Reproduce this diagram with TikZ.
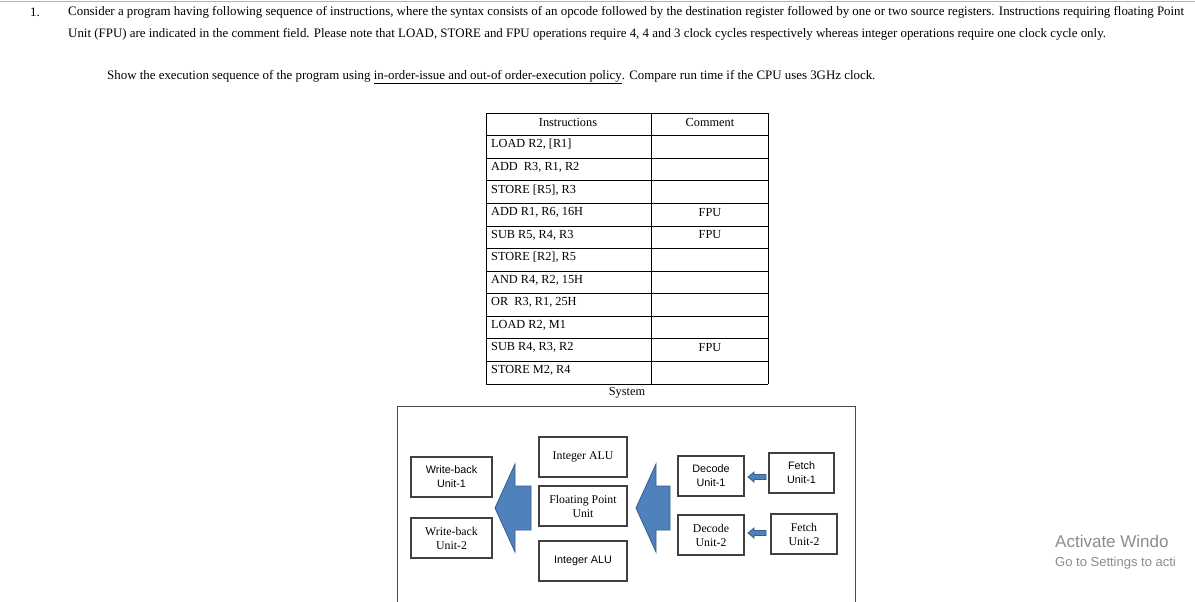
\documentclass[tikz,border=0pt]{standalone}
\usepackage{fontspec}
\setmainfont{Liberation Serif}
\setsansfont{Liberation Sans}
\begin{document}
\begin{tikzpicture}[x=1pt,y=-1pt,
  txt/.style={font=\fontsize{12.9}{14}\selectfont,anchor=west,inner sep=0},
  cell/.style={font=\fontsize{12.3}{14}\selectfont,anchor=west,inner sep=0},
  unit/.style={draw=black!75,line width=1.3pt,align=center,inner sep=0,font=\fontsize{11.8}{14}\selectfont},
  sunit/.style={unit,font=\sffamily\fontsize{10.8}{14}\selectfont},
  garrow/.style={fill={rgb,255:red,79;green,129;blue,189},draw={rgb,255:red,56;green,93;blue,138},line width=0.8pt}]
\useasboundingbox (0,0) rectangle (1195,602);
\fill[white] (0,0) rectangle (1195,602);
\draw[black!30] (0,1) -- (1195,1);
\node[txt] (n1) at (30,12) {1.};
\node[txt] (l1) at (68,12) {Consider a program having following sequence of instructions, where the syntax consists of an opcode followed by the destination register followed by one or two source registers. Instructions requiring floating Point};
\node[txt] (l2) at (68,34) {Unit (FPU) are indicated in the comment field. Please note that LOAD, STORE and FPU operations require 4, 4 and 3 clock cycles respectively whereas integer operations require one clock cycle only.};
\node[txt] (l3) at (107,77) {Show the execution sequence of the program using \underline{in-order-issue and out-of order-execution policy}. Compare run time if the CPU uses 3GHz clock.};
% table
\foreach \i in {0,...,12} \draw[line width=0.8pt] (486,{113+\i*22.58}) -- (768,{113+\i*22.58});
\draw[line width=0.8pt] (486,113) -- (486,384) (651,113) -- (651,384) (768,113) -- (768,384);
\node[cell,anchor=center] (h1) at (568,122) {Instructions};
\node[cell,anchor=center] (h2) at (710,122) {Comment};
\foreach \t [count=\i] in {{LOAD R2, [R1]},{ADD\ \ R3, R1, R2},{STORE [R5], R3},{ADD R1, R6, 16H},{SUB R5, R4, R3},{STORE [R2], R5},{AND R4, R2, 15H},{OR\ \ R3, R1, 25H},{LOAD R2, M1},{SUB R4, R3, R2},{STORE M2, R4}}
  \node[cell] at (491,{122+\i*22.58}) {\t};
\node[cell,anchor=center] (c4) at (710,{122+4*22.58}) {FPU};
\node[cell,anchor=center] (c5) at (710,{122+5*22.58}) {FPU};
\node[cell,anchor=center] (c10) at (710,{122+10*22.58}) {FPU};
\node[cell,anchor=center] (sys) at (627,393) {System};
% system box
\draw[black!70,line width=1pt] (397,602) -- (397,406) -- (855,406) -- (855,602);
\node[sunit,minimum width=81,minimum height=40] (wb1) at (451.5,477) {Write-back\\Unit-1};
\node[unit,minimum width=81,minimum height=40] (wb2) at (451.5,538) {Write-back\\Unit-2};
\node[unit,minimum width=88,minimum height=40] (ia1) at (583,457) {Integer ALU};
\node[unit,minimum width=88,minimum height=40] (fpu) at (583,506) {Floating Point\\Unit};
\node[sunit,minimum width=88,minimum height=40] (ia2) at (583,561) {Integer ALU};
\node[sunit,minimum width=66,minimum height=40] (d1) at (711,476) {Decode\\Unit-1};
\node[unit,minimum width=66,minimum height=40] (d2) at (711,535) {Decode\\Unit-2};
\node[sunit,minimum width=65,minimum height=40] (f1) at (801.5,473) {Fetch\\Unit-1};
\node[unit,minimum width=66,minimum height=40] (f2) at (804,534) {Fetch\\Unit-2};
% big arrows
\draw[garrow] (495,508) -- (515,464) -- (515,486) -- (531,486) -- (531,530) -- (515,530) -- (515,552) -- cycle;
\draw[garrow] (636,508) -- (656,464) -- (656,486) -- (670,486) -- (670,530) -- (656,530) -- (656,552) -- cycle;
% small arrows
\foreach \yy in {477,533}{
  \draw[garrow] (748,\yy) -- (754,{\yy-5}) -- (754,{\yy-2.5}) -- (766,{\yy-2.5}) -- (766,{\yy+2.5}) -- (754,{\yy+2.5}) -- (754,{\yy+5}) -- cycle;}
\node[font=\sffamily\fontsize{17}{20}\selectfont,text=black!45,anchor=west,inner sep=0] (aw) at (1055,541) {Activate Windo};
\node[font=\sffamily\fontsize{13}{16}\selectfont,text=black!45,anchor=west,inner sep=0] (gs) at (1055,563) {Go to Settings to acti};
\end{tikzpicture}
\end{document}
